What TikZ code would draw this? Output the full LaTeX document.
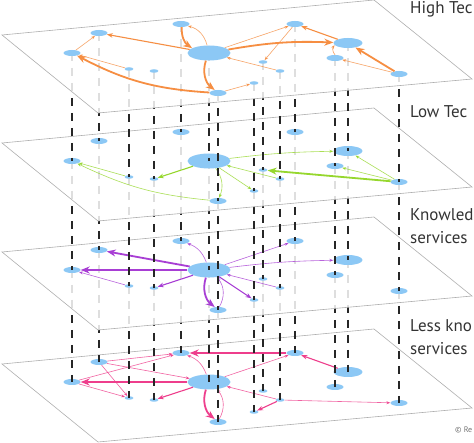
\documentclass[tikz,border=0pt]{standalone}
\usepackage{fontspec}
\setsansfont{PT Sans}
\usetikzlibrary{shapes.geometric, arrows.meta}
\definecolor{cSite}{RGB}{140,200,245}
\definecolor{cHigh}{RGB}{246,142,66}
\definecolor{cLow}{RGB}{150,215,45}
\definecolor{cKnow}{RGB}{168,62,212}
\definecolor{cLess}{RGB}{238,62,140}
\definecolor{cEdge}{RGB}{175,175,175}
\tikzset{
	sheet/.style    ={draw=cEdge, line width=0.6pt, fill=white, fill opacity=0.85},
	site/.style     ={ellipse, fill=cSite, inner sep=0pt, draw=none},
	sitesmall/.style={site, minimum width=9pt, minimum height=3.5pt},
	sitemid/.style  ={site, minimum width=17pt, minimum height=6pt},
	sitelarge/.style={site, minimum width=29pt, minimum height=10pt},
	sitebig/.style  ={site, minimum width=43pt, minimum height=15pt},
	drop/.style     ={line width=1.8pt, black!85, dash pattern=on 8pt off 7pt},
	% link styles
	lnkthin/.style  ={-{Stealth[length=4pt, width=3pt]}, line width=0.6pt, draw opacity=0.8},
	lnkmid/.style   ={-{Stealth[length=6pt, width=4.5pt]}, line width=1.1pt},
	lnkthick/.style ={-{Stealth[length=9pt, width=7pt]}, line width=1.8pt},
	layerlbl/.style ={font=\sffamily\fontsize{17}{23}\selectfont, text=black!80, align=left, anchor=north west, inner sep=0pt},
}
\pgfdeclarelayer{sheet4}
\pgfdeclarelayer{dots4}
\pgfdeclarelayer{drop3}
\pgfdeclarelayer{sheet3}
\pgfdeclarelayer{dots3}
\pgfdeclarelayer{drop2}
\pgfdeclarelayer{sheet2}
\pgfdeclarelayer{dots2}
\pgfdeclarelayer{drop1}
\pgfdeclarelayer{sheet1}
\pgfdeclarelayer{dots1}
\pgfsetlayers{sheet4,dots4,drop3,sheet3,dots3,drop2,sheet2,dots2,drop1,sheet1,dots1,main}
% region / x / y (top layer) / size
\def\sites{A/99/33/sitemid, B/72/53/sitemid, C/129/69/sitesmall, D/154/71/sitesmall,
	E/181/24/sitemid, F/209/53/sitebig, G/218/93/sitemid, H/295/24/sitemid,
	I/263/62/sitesmall, J/280/71/sitesmall, K/254/83/sitesmall, L/348/43/sitelarge,
	M/335/58/sitemid, N/399/74/sitemid}
\begin{document}
\begin{tikzpicture}[x=1pt, y=-1pt]
	\useasboundingbox (0,0) rectangle (474,443);
	% planes
	\foreach \d/\lay in {329/sheet4, 217/sheet3, 108/sheet2, 0/sheet1}{
		\begin{pgfonlayer}{\lay}
			\draw[sheet] (2,35+\d) -- (374,0+\d) -- (472,79+\d) -- (98,113+\d) -- cycle;
		\end{pgfonlayer}
	}
	% regions on every plane
	\foreach \p/\d/\lay in {s/329/dots4, k/217/dots3, l/108/dots2, h/0/dots1}{
		\begin{pgfonlayer}{\lay}
			\foreach \n/\x/\y/\s in \sites
				\node[\s] (\p\n) at (\x,\y+\d) {};
		\end{pgfonlayer}
	}
	% vertical links between planes
	\foreach \up/\dn/\lay in {h/l/drop1, l/k/drop2, k/s/drop3}{
		\begin{pgfonlayer}{\lay}
			\foreach \n/\x/\y/\s in \sites
				\draw[drop] (\up\n.center) -- (\dn\n.center);
		\end{pgfonlayer}
	}
	% high tech
	\begin{pgfonlayer}{dots1}
		\begin{scope}[cHigh]
			\draw[lnkmid] (hF) -- (hA);
			\draw[lnkthin] (hB) -- (hA);
			\draw[lnkthick] (hG) to[bend left=12] (hB);
			\draw[lnkthin] (hC) -- (hB);
			\draw[lnkthick] (hE) to[bend right=30] (hF);
			\draw[lnkthin] (hF) to[bend right=30] (hE);
			\draw[lnkthick] (hF) to[bend right=35] (hG);
			\draw[lnkthin] (hG) -- (hK);
			\draw[lnkthin] (hF) -- (hH);
			\draw[lnkthin] (hH) -- (hI);
			\draw[lnkmid] (hL) -- (hH);
			\draw[lnkthick] (hF) to[bend left=6] (hL);
			\draw[lnkthin] (hJ) -- (hF);
			\draw[lnkthick] (hN) -- (hL);
			\draw[lnkthin] (hN) -- (hM);
			\draw[lnkthin] (hM) to[bend left=40] (hL);
		\end{scope}
	\end{pgfonlayer}
	% low tech
	\begin{pgfonlayer}{dots2}
		\begin{scope}[cLow]
			\draw[lnkmid] (lF) -- (lD);
			\draw[lnkthin] (lG) to[bend left=10] (lB);
			\draw[lnkthin] (lC) -- (lB);
			\draw[lnkthin] (lF) to[bend left=30] (lG);
			\draw[lnkthin] (lF) -- (lK);
			\draw[lnkthin] (lF) to[bend left=3] (lL);
			\draw[lnkthin] (lJ) -- (lF);
			\draw[lnkthick] (lN) -- (lI);
			\draw[lnkthin] (lN) -- (lL);
			\draw[lnkthin] (lN) -- (lM);
		\end{scope}
	\end{pgfonlayer}
	% knowledge intensive services
	\begin{pgfonlayer}{dots3}
		\begin{scope}[cKnow]
			\draw[lnkthick] (kF) -- (kA);
			\draw[lnkthick] (kF) -- (kB);
			\draw[lnkthin] (kC) -- (kB);
			\draw[lnkmid] (kF) -- (kD);
			\draw[lnkthin] (kF) to[bend right=25] (kE);
			\draw[lnkthick] (kF) to[bend right=35] (kG);
			\draw[lnkthin] (kG) to[bend right=35] (kF);
			\draw[lnkthin] (kF) -- (kH);
			\draw[lnkthin] (kF) to[bend left=3] (kL);
			\draw[lnkthin] (kJ) -- (kF);
			\draw[lnkmid] (kF) -- (kK);
		\end{scope}
	\end{pgfonlayer}
	% less knowledge intensive services
	\begin{pgfonlayer}{dots4}
		\begin{scope}[cLess]
			\draw[lnkthick] (sF) -- (sB);
			\draw[lnkthin] (sA) -- (sE);
			\draw[lnkthin] (sB) -- (sE);
			\draw[lnkthin] (sA) -- (sC);
			\draw[lnkthin] (sB) -- (sC);
			\draw[lnkthin] (sA) -- (sF);
			\draw[lnkmid] (sF) -- (sD);
			\draw[lnkthick] (sF) to[bend right=35] (sG);
			\draw[lnkthin] (sG) to[bend right=35] (sF);
			\draw[lnkthick] (sH) -- (sE);
			\draw[lnkthin] (sF) to[bend right=25] (sE);
			\draw[lnkthin] (sF) -- (sH);
			\draw[lnkmid] (sL) -- (sH);
			\draw[lnkthin] (sJ) -- (sF);
			\draw[lnkmid] (sJ) -- (sK);
			\draw[lnkthin] (sJ) -- (sN);
		\end{scope}
	\end{pgfonlayer}
	% plane labels
	\node[layerlbl] (lblHigh) at (410,1) {High Tec};
	\node[layerlbl] (lblLow) at (410,105) {Low Tec};
	\node[layerlbl] (lblKnow) at (410,208) {Knowled\\services};
	\node[layerlbl] (lblLess) at (410,319) {Less kno\\services};
	\node[font=\sffamily\fontsize{8}{9}\selectfont, text=black!55, anchor=base west, inner sep=0pt] (credit) at (455,432) {\textcopyright\ Re};
\end{tikzpicture}
\end{document}
